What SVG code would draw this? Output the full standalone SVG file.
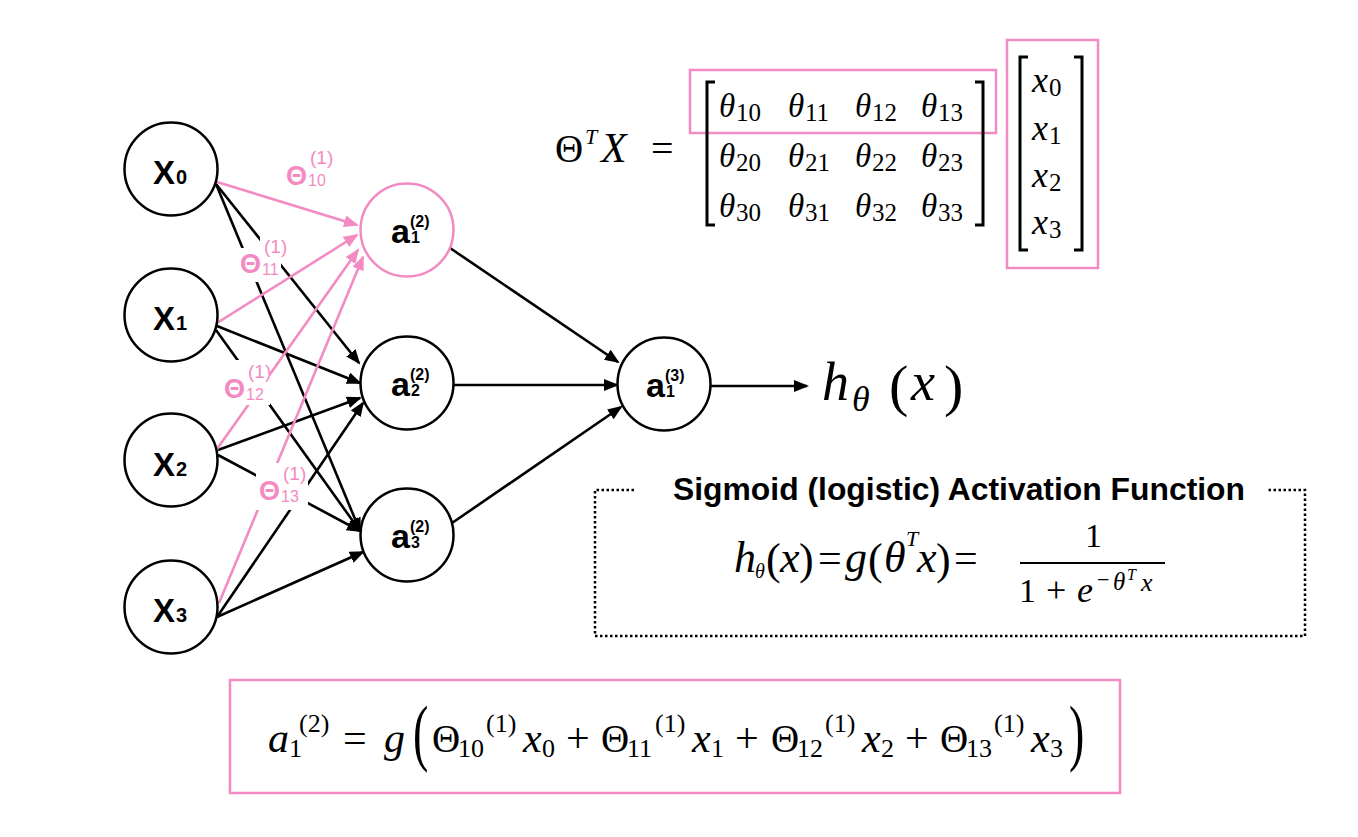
<svg xmlns="http://www.w3.org/2000/svg" width="1358" height="837" viewBox="0 0 1358 837">
<defs>
<style>
.nd{fill:#fff;stroke:#000;stroke-width:2.5}
.pk{stroke:#F38BC3}
.e{stroke:#000;stroke-width:2.6;fill:none;marker-end:url(#ab)}
.pe{stroke:#F38BC3;stroke-width:2.6;fill:none;marker-end:url(#ap)}
.sb{font-family:"Liberation Sans",Arial,sans-serif;font-weight:bold;fill:#000}
.pl{font-family:"Liberation Sans",Arial,sans-serif;fill:#F38BC3}
.pb{font-family:"Liberation Sans",Arial,sans-serif;font-weight:bold;fill:#F38BC3}
.mt{font-family:"Liberation Serif","Times New Roman",serif;fill:#000}
.it{font-style:italic}
.n{font-style:normal}
.bg{fill:#fff}
.pbox{fill:none;stroke:#F38BC3;stroke-width:2.5}
</style>
<marker id="ab" markerUnits="userSpaceOnUse" markerWidth="16" markerHeight="14" refX="13" refY="6" orient="auto"><path d="M0,0 L15,6 L0,12 z" fill="#000"/></marker>
<marker id="ap" markerUnits="userSpaceOnUse" markerWidth="16" markerHeight="14" refX="13" refY="6" orient="auto"><path d="M0,0 L15,6 L0,12 z" fill="#F38BC3"/></marker>
</defs>
<rect width="1358" height="837" fill="#fff"/>

<g id="connectors">
<line class="e" x1="216" y1="184" x2="359" y2="363"/>
<line class="e" x1="216" y1="184" x2="360" y2="531"/>
<line class="e" x1="217" y1="326" x2="360" y2="383"/>
<line class="e" x1="216" y1="330" x2="360" y2="531"/>
<line class="e" x1="218" y1="450" x2="360" y2="398"/>
<line class="e" x1="218" y1="455" x2="360" y2="531"/>
<line class="e" x1="217" y1="617" x2="363" y2="403"/>
<line class="e" x1="217" y1="617" x2="363" y2="552"/>
<line class="e" x1="450" y1="248" x2="618" y2="362"/>
<line class="e" x1="453" y1="385" x2="617" y2="385"/>
<line class="e" x1="452" y1="523" x2="621" y2="407"/>
<line class="e" x1="711" y1="386" x2="807" y2="386"/>
<line class="pe" x1="217" y1="182" x2="357" y2="225"/>
<line class="pe" x1="217" y1="323" x2="357" y2="235"/>
<line class="pe" x1="217" y1="449" x2="358" y2="250"/>
<line class="pe" x1="219" y1="603" x2="363" y2="257"/>
</g>

<g id="label-theta10">
<rect class="bg" x="283" y="149" width="52" height="40"/>
<text class="pb" x="286" y="185" font-size="27">Θ<tspan class="pl" x="308" y="186" font-size="16" font-weight="normal">10</tspan><tspan class="pl" x="310" y="164" font-size="19" font-weight="normal">(1)</tspan></text>
</g>
<g id="label-theta11">
<rect class="bg" x="237" y="248" width="44" height="34"/>
<rect class="bg" x="260" y="234" width="30" height="24"/>
<text class="pb" x="240" y="273" font-size="27">Θ<tspan class="pl" x="262" y="275" font-size="16" font-weight="normal">11</tspan><tspan class="pl" x="264" y="253" font-size="19" font-weight="normal">(1)</tspan></text>
</g>
<g id="label-theta12">
<rect class="bg" x="221" y="360" width="49" height="45"/>
<text class="pb" x="224" y="398" font-size="27">Θ<tspan class="pl" x="246" y="400" font-size="16" font-weight="normal">12</tspan><tspan class="pl" x="248" y="378" font-size="19" font-weight="normal">(1)</tspan></text>
</g>
<g id="label-theta13">
<rect class="bg" x="256" y="463" width="52" height="47"/>
<text class="pb" x="259" y="500" font-size="27">Θ<tspan class="pl" x="281" y="502" font-size="16" font-weight="normal">13</tspan><tspan class="pl" x="283" y="480" font-size="19" font-weight="normal">(1)</tspan></text>
</g>

<g id="node-x0">
<circle class="nd" cx="171" cy="169" r="46.5"/>
<text class="sb" x="153" y="184" font-size="33">X<tspan font-size="20" dx="1">0</tspan></text>
</g>
<g id="node-x1">
<circle class="nd" cx="171" cy="315" r="46.5"/>
<text class="sb" x="153" y="330" font-size="33">X<tspan font-size="20" dx="1">1</tspan></text>
</g>
<g id="node-x2">
<circle class="nd" cx="171" cy="460" r="46.5"/>
<text class="sb" x="153" y="476" font-size="33">X<tspan font-size="20" dx="1">2</tspan></text>
</g>
<g id="node-x3">
<circle class="nd" cx="171" cy="607" r="46.5"/>
<text class="sb" x="153" y="622" font-size="33">X<tspan font-size="20" dx="1">3</tspan></text>
</g>

<g id="node-a1-2">
<circle class="nd pk" cx="407" cy="230" r="46.5"/>
<text class="sb" x="391" y="243" font-size="34">a<tspan x="411" y="243" font-size="16">1</tspan><tspan x="410" y="227" font-size="16">(2)</tspan></text>
</g>
<g id="node-a2-2">
<circle class="nd" cx="407" cy="383" r="46.5"/>
<text class="sb" x="391" y="396" font-size="34">a<tspan x="411" y="396" font-size="16">2</tspan><tspan x="410" y="380" font-size="16">(2)</tspan></text>
</g>
<g id="node-a3-2">
<circle class="nd" cx="407" cy="535" r="46.5"/>
<text class="sb" x="391" y="548" font-size="34">a<tspan x="411" y="548" font-size="16">3</tspan><tspan x="410" y="532" font-size="16">(2)</tspan></text>
</g>
<g id="node-a1-3">
<circle class="nd" cx="664" cy="384" r="46.5"/>
<text class="sb" x="646" y="397" font-size="34">a<tspan x="666" y="397" font-size="16">1</tspan><tspan x="665" y="381" font-size="16">(3)</tspan></text>
</g>

<g id="output-h">
<text class="mt" font-size="54"><tspan class="it" x="822" y="400">h</tspan><tspan class="it" x="852" y="411" font-size="36">θ</tspan><tspan x="889" y="405" font-size="58">(</tspan><tspan class="it" x="911" y="400">x</tspan><tspan x="944" y="405" font-size="58">)</tspan></text>
</g>

<g id="matrix-equation">
<rect class="pbox" x="690" y="70" width="306" height="63"/>
<rect class="pbox" x="1007" y="40" width="91" height="228"/>
<text class="mt" font-size="40"><tspan x="555" y="162" font-size="39">Θ</tspan><tspan class="it" x="585" y="144" font-size="22">T</tspan><tspan class="it" x="601" y="162" font-size="42">X</tspan><tspan x="651" y="162">=</tspan></text>
<path d="M715,82 H707 V225 H715 M975,82 H983 V225 H975" fill="none" stroke="#000" stroke-width="3"/>
<path d="M1028,57 H1020 V250 H1028 M1074,57 H1082 V250 H1074" fill="none" stroke="#000" stroke-width="3"/>
<text class="mt it" font-size="33"><tspan x="719" y="117">θ</tspan><tspan class="n" x="736" y="121" font-size="25">10</tspan><tspan x="788" y="117">θ</tspan><tspan class="n" x="805" y="121" font-size="25">11</tspan><tspan x="855" y="117">θ</tspan><tspan class="n" x="872" y="121" font-size="25">12</tspan><tspan x="921" y="117">θ</tspan><tspan class="n" x="938" y="121" font-size="25">13</tspan></text>
<text class="mt it" font-size="33"><tspan x="719" y="167">θ</tspan><tspan class="n" x="736" y="171" font-size="25">20</tspan><tspan x="788" y="167">θ</tspan><tspan class="n" x="805" y="171" font-size="25">21</tspan><tspan x="855" y="167">θ</tspan><tspan class="n" x="872" y="171" font-size="25">22</tspan><tspan x="921" y="167">θ</tspan><tspan class="n" x="938" y="171" font-size="25">23</tspan></text>
<text class="mt it" font-size="33"><tspan x="719" y="217">θ</tspan><tspan class="n" x="736" y="221" font-size="25">30</tspan><tspan x="788" y="217">θ</tspan><tspan class="n" x="805" y="221" font-size="25">31</tspan><tspan x="855" y="217">θ</tspan><tspan class="n" x="872" y="221" font-size="25">32</tspan><tspan x="921" y="217">θ</tspan><tspan class="n" x="938" y="221" font-size="25">33</tspan></text>
<text class="mt it" font-size="36"><tspan x="1032" y="92">x</tspan><tspan class="n" x="1049" y="96" font-size="25">0</tspan><tspan x="1032" y="140">x</tspan><tspan class="n" x="1049" y="144" font-size="25">1</tspan><tspan x="1032" y="187">x</tspan><tspan class="n" x="1049" y="191" font-size="25">2</tspan><tspan x="1032" y="234">x</tspan><tspan class="n" x="1049" y="238" font-size="25">3</tspan></text>
</g>

<g id="sigmoid-box">
<path d="M634,490 H595 V636 H1305 V490 H1266" fill="none" stroke="#000" stroke-width="2.5" stroke-dasharray="2.5,2.5"/>
<text class="sb" x="673" y="500" font-size="31" textLength="572" lengthAdjust="spacingAndGlyphs">Sigmoid (logistic) Activation Function</text>
<text class="mt" font-size="44"><tspan class="it" x="734" y="572">h</tspan><tspan class="it" x="755" y="578" font-size="20">θ</tspan><tspan x="766" y="574" font-size="44">(</tspan><tspan class="it" x="780" y="572">x</tspan><tspan x="799" y="574" font-size="44">)</tspan><tspan x="818" y="572" font-size="42">=</tspan><tspan class="it" x="845" y="572">g</tspan><tspan x="868" y="574" font-size="44">(</tspan><tspan class="it" x="884" y="572">θ</tspan><tspan class="it" x="906" y="546" font-size="22">T</tspan><tspan class="it" x="917" y="572">x</tspan><tspan x="936" y="574" font-size="44">)</tspan><tspan x="954" y="572" font-size="42">=</tspan></text>
<line x1="1020" y1="563" x2="1165" y2="563" stroke="#000" stroke-width="2"/>
<text class="mt" font-size="34"><tspan x="1085" y="547">1</tspan><tspan x="1019" y="602">1</tspan><tspan x="1046" y="602" font-size="36">+</tspan><tspan class="it" x="1077" y="602" font-size="36">e</tspan><tspan x="1097" y="587" font-size="22">−</tspan><tspan class="it" x="1113" y="590" font-size="25">θ</tspan><tspan class="it" x="1127" y="580" font-size="16">T</tspan><tspan class="it" x="1141" y="591" font-size="26">x</tspan></text>
</g>

<g id="neuron-equation">
<rect class="pbox" x="230" y="680" width="890" height="113"/>
<text class="mt" font-size="42"><tspan class="it" x="268" y="752">a</tspan><tspan x="289" y="757" font-size="26">1</tspan><tspan x="299" y="732" font-size="26">(2)</tspan><tspan x="343" y="752">=</tspan><tspan class="it" x="384" y="752">g</tspan><tspan x="432" y="752" font-size="39">Θ</tspan><tspan x="458" y="757" font-size="26">10</tspan><tspan x="486" y="732" font-size="26">(1)</tspan><tspan class="it" x="523" y="752">x</tspan><tspan x="542" y="757" font-size="26">0</tspan><tspan x="566" y="752">+</tspan><tspan x="601" y="752" font-size="39">Θ</tspan><tspan x="627" y="757" font-size="26">11</tspan><tspan x="655" y="732" font-size="26">(1)</tspan><tspan class="it" x="692" y="752">x</tspan><tspan x="711" y="757" font-size="26">1</tspan><tspan x="735" y="752">+</tspan><tspan x="771" y="752" font-size="39">Θ</tspan><tspan x="797" y="757" font-size="26">12</tspan><tspan x="825" y="732" font-size="26">(1)</tspan><tspan class="it" x="862" y="752">x</tspan><tspan x="881" y="757" font-size="26">2</tspan><tspan x="905" y="752">+</tspan><tspan x="940" y="752" font-size="39">Θ</tspan><tspan x="966" y="757" font-size="26">13</tspan><tspan x="994" y="732" font-size="26">(1)</tspan><tspan class="it" x="1031" y="752">x</tspan><tspan x="1050" y="757" font-size="26">3</tspan></text>
<text class="mt" font-size="46" transform="translate(413,757) scale(1,1.6)">(</text>
<text class="mt" font-size="46" transform="translate(1069,757) scale(1,1.6)">)</text>
</g>
</svg>
